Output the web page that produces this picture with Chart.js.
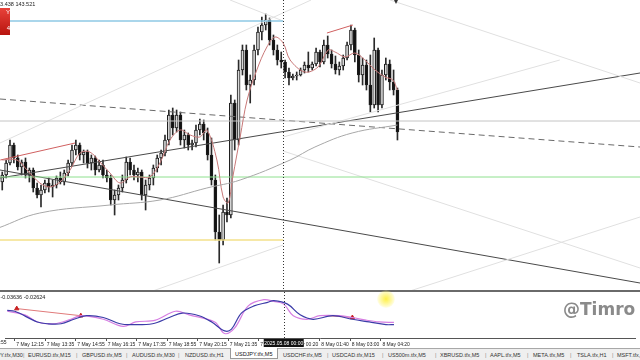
<!DOCTYPE html>
<html>
<head>
<meta charset="utf-8">
<script src="https://cdn.jsdelivr.net/npm/chart.js@4.4.1/dist/chart.umd.min.js"></script>
<style>
  html, body { margin: 0; padding: 0; background: #fff; }
  #wrap { position: relative; width: 640px; height: 360px; overflow: hidden; background: #fff; font-family: "Liberation Sans", Arial, sans-serif; }
  #mainChart { position: absolute; left: 0; top: 0; }
  #macdChart { position: absolute; left: 0; top: 292px; }
  #sep { position: absolute; left: 0; top: 290px; width: 640px; height: 2px; background: #6a6a6a; }
  #quote { position: absolute; left: -6px; top: 1px; font-size: 5.5px; color: #222; white-space: nowrap; }
  #oneclick { position: absolute; left: 0; top: 8px; width: 10px; height: 27px; background: linear-gradient(#e8423a, #b8140f); color: #fff; font-size: 6px; text-align: right; line-height: 8px; }
  #macdLabel { position: absolute; left: -6px; top: 294px; font-size: 5.5px; color: #222; white-space: nowrap; }
  #cutTick { position: absolute; left: -21px; top: 339px; font-size: 5px; color: #222; white-space: nowrap; }
  #brand { position: absolute; left: 563px; top: 299px; font-family: "DejaVu Sans", sans-serif; font-weight: bold; font-size: 17px; color: #8a8a8a; white-space: nowrap; }
  #spot { position: absolute; left: 377px; top: 290px; width: 18px; height: 18px; border-radius: 50%; background: radial-gradient(rgba(255,240,60,0.95), rgba(255,245,120,0.35) 60%, rgba(255,255,255,0) 75%); }
  #arrow { position: absolute; left: 394px; top: 0; width: 0; height: 0; border-left: 2px solid transparent; border-right: 2px solid transparent; border-top: 4px solid #333; }
  #tabs { position: absolute; left: 0; top: 348px; width: 640px; height: 12px; background: #efefef; border-top: 1px solid #a8a8a8; font-size: 5.5px; color: #333; }
  #tabs span { position: absolute; top: 3px; white-space: nowrap; }
  #tabs .bar { color: #888; }
  #tabs .active { top: -1px; height: 11px; padding: 3px 4px 0 4px; box-sizing: border-box; background: #fff; border: 1px solid #999; border-top: none; color: #111; }
</style>
</head>
<body>
<div id="wrap">
  <canvas id="mainChart" width="640" height="291"></canvas>
  <div id="sep"></div>
  <canvas id="macdChart" width="640" height="56"></canvas>
  <div id="quote">143.438 143.521</div>
  <div id="oneclick">Y<br><br>4</div>
  <div id="arrow"></div>
  <div id="macdLabel">9) -0.03636 -0.02624</div>
  <div id="cutTick">7 May 10:55</div>
  <div id="spot"></div>
  <div id="brand">@Timro</div>
  <div id="tabs">
    <span style="left:-14px">URJPY.tfx,M30</span><span class="bar" style="left:23px">|</span>
    <span style="left:28px">EURUSD.tfx,M15</span><span class="bar" style="left:76px">|</span>
    <span style="left:82px">GBPUSD.tfx,M5</span><span class="bar" style="left:126px">|</span>
    <span style="left:132px">AUDUSD.tfx,M30</span><span class="bar" style="left:178px">|</span>
    <span style="left:185px">NZDUSD.tfx,H1</span>
    <span class="active" style="left:230px">USDJPY.tfx,M5</span>
    <span style="left:283px">USDCHF.tfx,M5</span><span class="bar" style="left:327px">|</span>
    <span style="left:332px">USDCAD.tfx,M15</span><span class="bar" style="left:382px">|</span>
    <span style="left:388px">US500m.tfx,M5</span><span class="bar" style="left:435px">|</span>
    <span style="left:440px">XBRUSD.tfx,M5</span><span class="bar" style="left:485px">|</span>
    <span style="left:490px">AAPL.tfx,M5</span><span class="bar" style="left:527px">|</span>
    <span style="left:533px">META.tfx,M5</span><span class="bar" style="left:570px">|</span>
    <span style="left:577px">TSLA.tfx,H1</span><span class="bar" style="left:612px">|</span>
    <span style="left:617px">MSFT.tfx,M5</span>
  </div>
</div>
<script>
// USDJPY candles, one per slot
const candleOpen = [
  142.18,142.25,142.37,142.55,142.42,142.33,142.38,142.25,142.30,142.12,
  142.05,142.10,142.17,142.13,142.15,142.22,142.18,142.27,142.37,142.50,
  142.55,142.45,142.48,142.37,142.42,142.30,142.35,142.25,142.22,142.00,
  142.05,142.12,142.20,142.38,142.30,142.25,142.28,142.05,142.15,142.22,
  142.32,142.42,142.47,142.60,142.85,142.72,142.85,142.60,142.65,142.55,
  142.57,142.70,142.76,142.67,142.45,142.20,141.68,141.60,141.88,141.85,
  142.97,142.60,143.30,143.50,143.15,143.20,143.50,143.68,143.75,143.80,
  143.60,143.50,143.40,143.38,143.28,143.22,143.24,143.25,143.30,143.35,
  143.32,143.36,143.48,143.38,143.55,143.46,143.36,143.30,143.34,143.42,
  143.55,143.70,143.45,143.25,143.35,143.15,142.95,143.50,142.95,143.25,
  143.36,143.18,143.10
];
const candleHigh = [
  142.28,142.40,142.60,142.57,142.45,142.40,142.42,142.32,142.32,142.17,
  142.15,142.20,142.22,142.20,142.24,142.28,142.30,142.40,142.55,142.60,
  142.57,142.50,142.50,142.45,142.44,142.40,142.40,142.30,142.25,142.10,
  142.15,142.25,142.43,142.42,142.35,142.32,142.30,142.20,142.25,142.35,
  142.45,142.50,142.65,142.90,142.92,142.90,142.88,142.70,142.67,142.60,
  142.75,142.81,142.80,142.72,142.62,142.25,141.85,141.95,142.02,143.05,
  143.00,143.40,143.55,143.55,143.25,143.55,143.73,143.83,143.86,143.82,
  143.65,143.55,143.48,143.40,143.32,143.26,143.28,143.32,143.38,143.48,
  143.38,143.52,143.50,143.60,143.64,143.50,143.44,143.38,143.45,143.58,
  143.75,143.72,143.50,143.42,143.40,143.45,143.62,143.52,143.30,143.42,
  143.40,143.30,143.12
];
const candleLow = [
  142.10,142.22,142.35,142.37,142.30,142.25,142.22,142.18,142.08,142.02,
  141.93,142.07,142.08,142.03,142.12,142.16,142.15,142.24,142.34,142.45,
  142.40,142.37,142.32,142.30,142.25,142.28,142.22,142.18,141.95,141.85,
  142.00,142.08,142.17,142.25,142.20,142.18,142.00,141.90,142.10,142.15,
  142.28,142.35,142.44,142.55,142.65,142.68,142.55,142.52,142.50,142.50,
  142.53,142.65,142.60,142.40,142.15,141.60,141.37,141.55,141.78,141.82,
  142.50,142.55,143.25,143.10,142.97,143.15,143.45,143.60,143.70,143.55,
  143.45,143.35,143.32,143.22,143.15,143.20,143.20,143.24,143.27,143.28,
  143.30,143.34,143.33,143.36,143.42,143.32,143.26,143.25,143.30,143.40,
  143.50,143.38,143.18,143.15,143.10,142.88,142.92,142.88,142.92,143.20,
  143.10,143.05,142.60
];
const candleClose = [
  142.25,142.37,142.55,142.42,142.33,142.38,142.25,142.30,142.12,142.05,
  142.10,142.17,142.13,142.15,142.22,142.18,142.27,142.37,142.50,142.55,
  142.45,142.48,142.37,142.42,142.30,142.35,142.25,142.22,142.00,142.05,
  142.12,142.20,142.38,142.30,142.25,142.28,142.05,142.15,142.22,142.32,
  142.42,142.47,142.60,142.85,142.72,142.85,142.60,142.65,142.55,142.57,
  142.70,142.76,142.67,142.45,142.20,141.68,141.60,141.88,141.85,142.97,
  142.60,143.30,143.50,143.15,143.20,143.50,143.68,143.75,143.80,143.60,
  143.50,143.40,143.38,143.28,143.22,143.24,143.25,143.30,143.35,143.32,
  143.36,143.48,143.38,143.55,143.46,143.36,143.30,143.34,143.42,143.55,
  143.70,143.45,143.25,143.35,143.15,142.95,143.50,142.95,143.25,143.36,
  143.18,143.10,142.68
];

// fast (red) and slow (grey) moving averages
const maFastIdx = [0,3.8,6.4,9.7,12.3,14.9,17.5,20.1,22.6,25.2,27.8,30.4,33,35.6,38.1,40.7,43.3,45.9,48.5,51,52.8,55.4,57,58.3,59.5,61.4,63.2,65.7,68.3,70.4,72.5,74.3,78.1,81.5,84.1,85.9,88.5,91,93.6,96.2,98.8,100.8,102];
const maFastVal = [142.40,142.40,142.30,142.17,142.13,142.18,142.30,142.47,142.48,142.38,142.27,142.17,142.23,142.23,142.23,142.37,142.60,142.70,142.65,142.63,142.70,142.40,142.03,141.97,142.23,142.63,143.00,143.30,143.53,143.63,143.57,143.40,143.28,143.33,143.50,143.48,143.43,143.47,143.40,143.30,143.23,143.20,143.10];
const maSlowIdx = [-1,9.7,27.8,40.7,52.8,61.4,74.3,80.7,90.3,102];
const maSlowVal = [141.72,141.87,141.95,142.00,142.12,142.20,142.40,142.53,142.67,142.75];

// MACD sub-window
const macdIdx = [0,2,7.9,10.5,14.1,17.5,20.8,25.2,29.6,32.2,38.1,42.5,45.9,50.3,53.6,57,58.8,61.4,64.7,68.3,69.9,73.5,76.8,80.2,85.4,90.5,94.9,99.3,101.4];
const macdVal = [0.028,0.024,-0.024,-0.032,-0.032,-0.012,0.004,-0.004,-0.032,-0.036,-0.032,-0.004,0.016,0.004,-0.024,-0.064,-0.056,0.016,0.048,0.064,0.072,0.056,0.008,-0.012,0.004,-0.012,-0.024,-0.036,-0.036];
const signalIdx = [0,4.6,7.9,12.3,16.7,19.3,25.2,30.4,33.7,38.9,44.1,47.7,54.4,57,59.6,63.2,67.3,69.9,72.5,75,78.6,82,87.2,90.5,94.1,97.5,101.4];
const signalVal = [0.024,0.008,-0.024,-0.032,-0.012,0.004,-0.012,-0.044,-0.024,-0.016,0.024,0.008,-0.024,-0.076,-0.052,0.048,0.076,0.068,0.056,0.004,-0.012,0.004,0.004,-0.004,-0.016,-0.024,-0.026];

// time axis
const timeTickIdx = [2,10,18,26,34,42,50,58,66,74,82,90,98];
const timeTickLabels = ["7 May 12:15","7 May 13:35","7 May 14:55","7 May 16:15","7 May 17:35","7 May 18:55","7 May 20:15","7 May 21:35","7 May 22:55","8 May 00:20","8 May 01:40","8 May 03:00","8 May 04:20"];
const crosshairIdx = 72.5;
const crosshairLabel = "2025.05.08 00:00";

// objects on the chart: [slot, price] end points
const blueLevel = [[-1,143.79],[72.5,143.79]];
const yellowLevel = [[-1,141.60],[72.5,141.60]];
const greenLevel = [[-1,142.23],[166,142.23]];
const greyLevel = [[-1,142.79],[166,142.79]];
const dashedTrend = [[-0.58,143.01],[164.6,142.53]];
const risingTrend = [[-0.58,142.22],[164.6,143.27]];
const fallingTrend = [[-0.58,142.30],[164.6,141.17]];
const fanLines = [
  [[-0.58,142.57],[79.7,144.0]],
  [[58.8,144.0],[72.5,143.79]],
  [[100.1,144.0],[164.6,143.17]],
  [[72.5,142.63],[143.9,143.40]],
  [[72.5,142.49],[164.6,141.32]],
  [[105.2,141.09],[164.6,141.83]],
  [[38.1,141.08],[72.5,141.55]]
];
const divPriceA = [[-0.5,142.40],[18.8,142.57]];
const divPriceB = [[83.8,143.67],[90.5,143.75]];
const divMacdA = [[2.5,0.036],[19.3,0.004]];
const divMacdB = [[84,0.004],[90.5,-0.004]];

const X_MIN = -0.58, X_MAX = 164.6;

function seg(pts, color, width, dash) {
  return {
    type: "line",
    data: pts.map(p => ({ x: p[0], y: p[1] })),
    borderColor: color,
    borderWidth: width,
    borderDash: dash || [],
    pointRadius: 0,
    tension: 0,
    order: -1
  };
}

function curve(idx, vals, color, tension, width) {
  return {
    type: "line",
    data: idx.map((v, i) => ({ x: v, y: vals[i] })),
    borderColor: color,
    borderWidth: width || 1,
    pointRadius: 0,
    tension: tension,
    order: -2
  };
}

const crossPlugin = {
  id: "cross",
  afterDatasetsDraw(chart) {
    const { ctx, chartArea, scales } = chart;
    const px = Math.round(scales.x.getPixelForValue(crosshairIdx)) + 0.5;
    ctx.save();
    ctx.strokeStyle = "#333";
    ctx.lineWidth = 1;
    ctx.setLineDash([1, 2]);
    ctx.beginPath();
    ctx.moveTo(px, 0);
    ctx.lineTo(px, chartArea.bottom);
    ctx.stroke();
    ctx.restore();
  }
};

const dateBoxPlugin = {
  id: "dateBox",
  afterDraw(chart) {
    const { ctx, chartArea, scales } = chart;
    const px = scales.x.getPixelForValue(crosshairIdx);
    ctx.save();
    ctx.fillStyle = "#111";
    ctx.fillRect(px - 20, chartArea.bottom + 1, 40, 8);
    ctx.fillStyle = "#fff";
    ctx.font = "5px 'Liberation Sans'";
    ctx.textAlign = "center";
    ctx.textBaseline = "middle";
    ctx.fillText(crosshairLabel, px, chartArea.bottom + 5.5);
    ctx.restore();
  }
};

const fanDatasets = fanLines.map(l => seg(l, "#e0e0e0", 1));

new Chart(document.getElementById("mainChart"), {
  type: "bar",
  data: {
    datasets: [
      seg(greyLevel, "#c4c4c4", 1),
      seg(greenLevel, "#8ee08e", 1),
      seg(blueLevel, "#8ec8e4", 1.5),
      seg(yellowLevel, "#f3e08a", 1.5),
      ...fanDatasets,
      seg(dashedTrend, "#6a6a6a", 1, [6, 4]),
      seg(risingTrend, "#4a4a4a", 1),
      seg(fallingTrend, "#4a4a4a", 1),
      seg(divPriceA, "#d06060", 1),
      seg(divPriceB, "#d06060", 1),
      curve(maSlowIdx, maSlowVal, "#a8a8a8", 0.4),
      curve(maFastIdx, maFastVal, "#c87878", 0.35),
      {
        type: "bar",
        data: candleHigh.map((h, i) => ({ x: i, y: [candleLow[i], h] })),
        backgroundColor: "#2a2a2a",
        barThickness: 1,
        grouped: false,
        order: 1
      },
      {
        type: "bar",
        data: candleOpen.map((o, i) => ({ x: i, y: [o, candleClose[i]] })),
        backgroundColor: candleOpen.map((o, i) => candleClose[i] >= o ? "#d8d8d8" : "#121212"),
        borderColor: "#1c1c1c",
        borderWidth: 1,
        borderSkipped: false,
        barThickness: 3,
        grouped: false,
        order: 0
      }
    ]
  },
  options: {
    responsive: false,
    animation: false,
    devicePixelRatio: 1,
    layout: { padding: 0 },
    plugins: { legend: { display: false }, tooltip: { enabled: false } },
    scales: {
      x: { type: "linear", min: X_MIN, max: X_MAX, display: false, offset: false },
      y: { min: 141.09, max: 144.0, display: false }
    }
  },
  plugins: [crossPlugin]
});

new Chart(document.getElementById("macdChart"), {
  type: "line",
  data: {
    datasets: [
      curve(macdIdx, macdVal, "#3c3ca8", 0.35, 1.2),
      curve(signalIdx, signalVal, "#d67ee2", 0.35, 1.2),
      {
        data: divMacdA.map(p => ({ x: p[0], y: p[1] })),
        borderColor: "#e07a7a",
        borderWidth: 1,
        pointStyle: "triangle",
        pointRadius: 2.5,
        pointBackgroundColor: "#c82020",
        pointBorderColor: "#c82020",
        tension: 0
      },
      {
        data: divMacdB.map(p => ({ x: p[0], y: p[1] })),
        borderColor: "#e07a7a",
        borderWidth: 1,
        pointStyle: "triangle",
        pointRadius: [0, 2.5],
        pointBackgroundColor: "#c82020",
        pointBorderColor: "#c82020",
        tension: 0
      }
    ]
  },
  options: {
    responsive: false,
    animation: false,
    devicePixelRatio: 1,
    layout: { padding: 0 },
    plugins: { legend: { display: false }, tooltip: { enabled: false } },
    scales: {
      x: {
        type: "linear",
        min: X_MIN,
        max: X_MAX,
        afterBuildTicks: s => { s.ticks = timeTickIdx.map(v => ({ value: v })); },
        afterFit: s => { s.height = 10; },
        ticks: {
          autoSkip: false,
          maxRotation: 0,
          minRotation: 0,
          align: "start",
          padding: 1,
          color: "#222",
          font: { family: "Liberation Sans", size: 5 },
          callback: (v, i) => " " + timeTickLabels[i]
        },
        grid: { drawOnChartArea: false, tickLength: 3, color: "#555" },
        border: { display: true, color: "#555" }
      },
      y: { min: -0.096, max: 0.088, display: false }
    }
  },
  plugins: [crossPlugin, dateBoxPlugin]
});
</script>
</body>
</html>
